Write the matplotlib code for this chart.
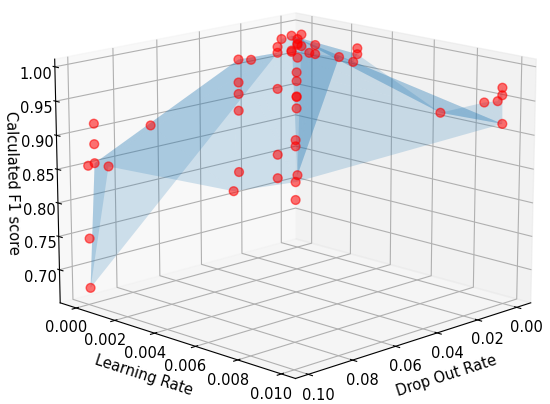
import matplotlib
matplotlib.use("Agg")
import matplotlib.pyplot as plt

plt.rcParams["font.size"] = 10.5

# hyper parameter runs: learning rate, drop out rate, F1 score
lr = [0.0001, 0.0001, 0.0001,
      0.0002, 0.0002, 0.0002,
      0.0008,
      0.0016,
      0.0048,
      0.0022, 0.0022, 0.0022, 0.0022, 0.0022,
      0.0023,
      0.0001, 0.0001, 0.0001, 0.0001, 0.0001,
      0.0060, 0.0060, 0.0060, 0.0060,
      0.0030, 0.0030, 0.0030, 0.0030, 0.0030,
      0.0001, 0.0001, 0.0001, 0.0001, 0.0001,
      0.0001, 0.0001, 0.0001,
      0.0001,
      0.0002, 0.0002,
      0.0006,
      0.0009, 0.0009,
      0.0021,
      0.0030, 0.0030,
      0.0028,
      0.0070,
      0.0090,
      0.0096,
      0.0098, 0.0098,
      0.0100]
dropout = [0.100, 0.100, 0.100,
           0.098, 0.098, 0.098,
           0.097,
           0.085,
           0.077,
           0.050, 0.050, 0.050, 0.050, 0.050,
           0.045,
           0.011, 0.011, 0.011, 0.011, 0.011,
           0.060, 0.060, 0.060, 0.060,
           0.030, 0.030, 0.030, 0.030, 0.030,
           0.001, 0.001, 0.001, 0.001, 0.001,
           0.004, 0.004, 0.004,
           0.009,
           0.000, 0.000,
           0.000,
           0.000, 0.000,
           0.000,
           0.000, 0.000,
           0.000,
           0.000,
           0.000,
           0.000,
           0.000, 0.000,
           0.002]
f1 = [0.676, 0.750, 0.858,
      0.919, 0.889, 0.861,
      0.860,
      0.917,
      0.839,
      0.994, 0.960, 0.943, 0.918, 0.826,
      0.991,
      0.975, 0.966, 0.910, 0.807, 0.770,
      0.848, 0.909, 0.900, 0.822,
      0.967, 0.954, 0.931, 0.930, 0.913,
      0.767, 0.981, 0.974, 0.972, 0.952,
      0.988, 0.963, 0.965,
      0.986,
      0.988, 0.970,
      0.962,
      0.976, 0.962,
      0.965,
      0.984, 0.975,
      0.962,
      0.913,
      0.942,
      0.948,
      0.969, 0.958,
      0.919]

fig = plt.figure(figsize=(5.5, 4.04), dpi=100)
ax = fig.add_axes([0.0273, 0.035, 1, 1], projection="3d")
ax.set_proj_type("persp", focal_length=1.2533)
ax.set_box_aspect((4, 4, 2.9924), zoom=1.2939)

# the 3d box reaches past the square axes area, so no clipping
ax.plot_trisurf(lr, dropout, f1, color="C0", alpha=0.2, shade=False, clip_on=False)
ax.scatter(lr, dropout, f1, c="red", s=40, alpha=0.55, clip_on=False)

ax.set_xlim(-0.00085, 0.010635)
ax.set_ylim(0.10567, -0.00733)
ax.set_zlim(0.650, 1.0111)
ax.set_xticks([0.000, 0.002, 0.004, 0.006, 0.008, 0.010])
ax.set_yticks([0.00, 0.02, 0.04, 0.06, 0.08, 0.10])
ax.set_zticks([0.70, 0.75, 0.80, 0.85, 0.90, 0.95, 1.00])
ax.zaxis._axinfo["juggled"] = (1, 2, 0)  # z axis on the left side
for a in ["x", "y", "z"]:
    ax.tick_params(axis=a, pad=-2)
ax.set_xlabel("Learning Rate", labelpad=-4)
ax.set_ylabel("Drop Out Rate", labelpad=-4)
ax.set_zlabel("Calculated F1 score", labelpad=-6.5)
ax.view_init(elev=14.61, azim=-45)
fig.savefig("out.png", dpi=100)
